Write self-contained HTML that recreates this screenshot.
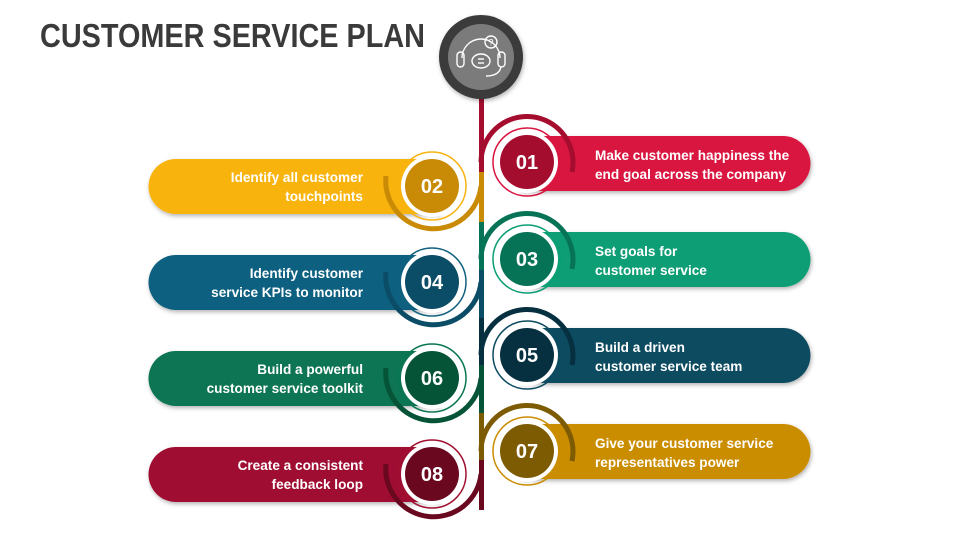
<!DOCTYPE html>
<html><head><meta charset="utf-8"><style>
html,body{margin:0;padding:0;background:#fff;}
svg{display:block;}
text{font-family:"Liberation Sans",sans-serif;}
</style></head><body>
<svg width="960" height="540" viewBox="0 0 960 540" xmlns="http://www.w3.org/2000/svg">
<defs>
<filter id="sh" x="-20%" y="-20%" width="140%" height="150%"><feDropShadow dx="1" dy="2" stdDeviation="2" flood-color="#000" flood-opacity="0.3"/></filter>
</defs>
<text x="40" y="47" font-size="33" font-weight="bold" fill="#3a3a3a" textLength="385" lengthAdjust="spacingAndGlyphs">CUSTOMER SERVICE PLAN</text>

<rect x="479" y="96" width="5" height="76" fill="#a50d2f"/>
<rect x="479" y="172" width="5" height="50" fill="#c98b06"/>
<rect x="479" y="222" width="5" height="48" fill="#067357"/>
<rect x="479" y="270" width="5" height="48" fill="#0b4c66"/>
<rect x="479" y="318" width="5" height="47" fill="#062f40"/>
<rect x="479" y="365" width="5" height="48" fill="#055437"/>
<rect x="479" y="413" width="5" height="47" fill="#7d5b03"/>
<rect x="479" y="460" width="5" height="50" fill="#6a0820"/>

<circle cx="481" cy="57" r="42" fill="#3b3b3b" filter="url(#sh)"/>
<circle cx="481" cy="57" r="33" fill="#7b7b7b"/>
<g fill="none" stroke="#fff" stroke-width="1.4">
<path d="M462 58 A19 19 0 0 1 500 58"/>
<rect x="457" y="52" width="7" height="15" rx="3.5"/>
<rect x="498" y="52" width="7" height="15" rx="3.5"/>
<ellipse cx="481" cy="61" rx="9" ry="7"/>
<circle cx="491" cy="42" r="6"/>
<path d="M501 67 Q499 76 486 76"/>
<line x1="478" y1="59" x2="484" y2="59"/><line x1="478" y1="63" x2="484" y2="63"/>
</g>
<text x="491" y="45.5" font-size="9" fill="#fff" text-anchor="middle">?</text>

<g font-size="13.6" font-weight="bold" fill="#fff">
<path d="M520 136 H783 A27.5 27.5 0 0 1 783 191 H520 Z" fill="#d9143f" filter="url(#sh)"/>
<path d="M481 162 A46 46 0 1 1 572 172" fill="none" stroke="#a50d2f" stroke-width="5"/>
<circle cx="527" cy="162" r="34" fill="none" stroke="#d9143f" stroke-width="1.5"/>
<circle cx="527" cy="162" r="31" fill="#fff"/>
<circle cx="527" cy="162" r="27" fill="#a50d2f"/>
<text x="527" y="169" font-size="20" text-anchor="middle">01</text>
<text x="595" y="160">Make customer happiness the</text>
<text x="595" y="179">end goal across the company</text>

<path d="M520 232 H783 A27.5 27.5 0 0 1 783 287 H520 Z" fill="#0a9e74" filter="url(#sh)"/>
<path d="M481 259 A46 46 0 1 1 572 269" fill="none" stroke="#067357" stroke-width="5"/>
<circle cx="527" cy="259" r="34" fill="none" stroke="#0a9e74" stroke-width="1.5"/>
<circle cx="527" cy="259" r="31" fill="#fff"/>
<circle cx="527" cy="259" r="27" fill="#067357"/>
<text x="527" y="266" font-size="20" text-anchor="middle">03</text>
<text x="595" y="256">Set goals for</text>
<text x="595" y="275">customer service</text>

<path d="M520 328 H783 A27.5 27.5 0 0 1 783 383 H520 Z" fill="#0c4b61" filter="url(#sh)"/>
<path d="M481 355 A46 46 0 1 1 572 365" fill="none" stroke="#062f40" stroke-width="5"/>
<circle cx="527" cy="355" r="34" fill="none" stroke="#0c4b61" stroke-width="1.5"/>
<circle cx="527" cy="355" r="31" fill="#fff"/>
<circle cx="527" cy="355" r="27" fill="#062f40"/>
<text x="527" y="362" font-size="20" text-anchor="middle">05</text>
<text x="595" y="352">Build a driven</text>
<text x="595" y="371">customer service team</text>

<path d="M520 424 H783 A27.5 27.5 0 0 1 783 479 H520 Z" fill="#cb8d02" filter="url(#sh)"/>
<path d="M481 451 A46 46 0 1 1 572 461" fill="none" stroke="#7d5b03" stroke-width="5"/>
<circle cx="527" cy="451" r="34" fill="none" stroke="#cb8d02" stroke-width="1.5"/>
<circle cx="527" cy="451" r="31" fill="#fff"/>
<circle cx="527" cy="451" r="27" fill="#7d5b03"/>
<text x="527" y="458" font-size="20" text-anchor="middle">07</text>
<text x="595" y="448">Give your customer service</text>
<text x="595" y="467">representatives power</text>
</g>

<g font-size="13.6" font-weight="bold" fill="#fff">
<path d="M440 159 H176 A27.5 27.5 0 0 0 176 214 H440 Z" fill="#f8b311" filter="url(#sh)"/>
<path d="M386 176 A47 47 0 1 0 481 186" fill="none" stroke="#c98b06" stroke-width="5"/>
<circle cx="432" cy="186" r="34" fill="none" stroke="#f8b311" stroke-width="1.5"/>
<circle cx="432" cy="186" r="31" fill="#fff"/>
<circle cx="432" cy="186" r="27" fill="#c98b06"/>
<text x="432" y="193" font-size="20" text-anchor="middle">02</text>
<text x="363" y="182" text-anchor="end">Identify all customer</text>
<text x="363" y="201" text-anchor="end">touchpoints</text>

<path d="M440 255 H176 A27.5 27.5 0 0 0 176 310 H440 Z" fill="#11617f" filter="url(#sh)"/>
<path d="M386 272 A47 47 0 1 0 481 282" fill="none" stroke="#0b4c66" stroke-width="5"/>
<circle cx="432" cy="282" r="34" fill="none" stroke="#11617f" stroke-width="1.5"/>
<circle cx="432" cy="282" r="31" fill="#fff"/>
<circle cx="432" cy="282" r="27" fill="#0b4c66"/>
<text x="432" y="289" font-size="20" text-anchor="middle">04</text>
<text x="363" y="278" text-anchor="end">Identify customer</text>
<text x="363" y="297" text-anchor="end">service KPIs to monitor</text>

<path d="M440 351 H176 A27.5 27.5 0 0 0 176 406 H440 Z" fill="#087553" filter="url(#sh)"/>
<path d="M386 368 A47 47 0 1 0 481 378" fill="none" stroke="#055437" stroke-width="5"/>
<circle cx="432" cy="378" r="34" fill="none" stroke="#087553" stroke-width="1.5"/>
<circle cx="432" cy="378" r="31" fill="#fff"/>
<circle cx="432" cy="378" r="27" fill="#055437"/>
<text x="432" y="385" font-size="20" text-anchor="middle">06</text>
<text x="363" y="374" text-anchor="end">Build a powerful</text>
<text x="363" y="393" text-anchor="end">customer service toolkit</text>

<path d="M440 447 H176 A27.5 27.5 0 0 0 176 502 H440 Z" fill="#a01030" filter="url(#sh)"/>
<path d="M386 464 A47 47 0 1 0 481 474" fill="none" stroke="#6a0820" stroke-width="5"/>
<circle cx="432" cy="474" r="34" fill="none" stroke="#a01030" stroke-width="1.5"/>
<circle cx="432" cy="474" r="31" fill="#fff"/>
<circle cx="432" cy="474" r="27" fill="#6a0820"/>
<text x="432" y="481" font-size="20" text-anchor="middle">08</text>
<text x="363" y="470" text-anchor="end">Create a consistent</text>
<text x="363" y="489" text-anchor="end">feedback loop</text>
</g>
</svg>
</body></html>
